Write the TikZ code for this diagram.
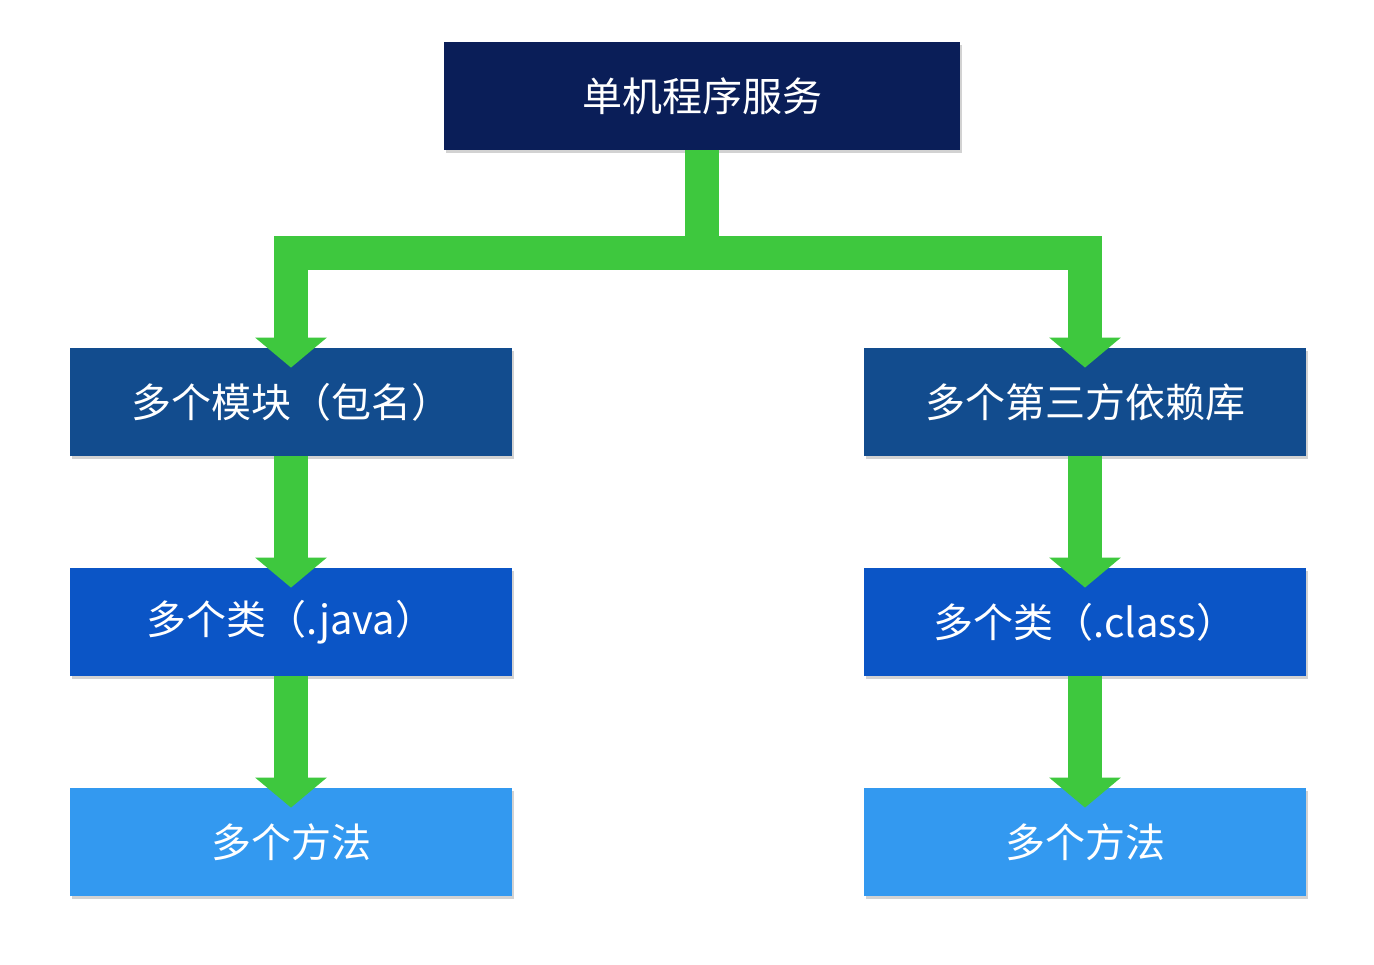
\documentclass[tikz,border=0pt]{standalone}
\usepackage{fontspec}
\setmainfont{Noto Sans CJK SC}
\usetikzlibrary{arrows.meta,shadows}
\definecolor{navy}{HTML}{0A1E58}
\definecolor{midblue}{HTML}{124C8E}
\definecolor{brightblue}{HTML}{0B55C6}
\definecolor{skyblue}{HTML}{3399F0}
\definecolor{arrowgreen}{HTML}{3EC83E}
\tikzset{
  box/.style={draw=none,minimum width=221pt,minimum height=54pt,text=white,
    font=\fontsize{20pt}{24pt}\selectfont,inner sep=0pt,
    drop shadow={shadow xshift=1pt,shadow yshift=-1.5pt,opacity=0.35}},
  flow/.style={draw=arrowgreen,line width=17pt,line join=miter,
    -{Triangle[width=35pt,length=15pt]}}
}
\begin{document}
\begin{tikzpicture}[x=0.5pt,y=-0.5pt]
\useasboundingbox[fill=white] (0,0) rectangle (1374,964);
% boxes
\node[box,minimum width=258pt,fill=navy] (top) at (702,96) {单机程序服务};
\node[box,fill=midblue] (l1) at (291,402) {多个模块（包名）};
\node[box,fill=brightblue] (l2) at (291,622) {多个类（.java）};
\node[box,fill=skyblue] (l3) at (291,842) {多个方法};
\node[box,fill=midblue] (r1) at (1085,402) {多个第三方依赖库};
\node[box,fill=brightblue] (r2) at (1085,622) {多个类（.class）};
\node[box,fill=skyblue] (r3) at (1085,842) {多个方法};
% arrows
\coordinate (split) at (702,253);
\draw[draw=arrowgreen,line width=17pt] (top.south) -- (split);
\draw[flow] (split) -| ([yshift=-10]l1.north);
\draw[flow] (split) -| ([yshift=-10]r1.north);
\draw[flow] (l1.south) -- ([yshift=-10]l2.north);
\draw[flow] (l2.south) -- ([yshift=-10]l3.north);
\draw[flow] (r1.south) -- ([yshift=-10]r2.north);
\draw[flow] (r2.south) -- ([yshift=-10]r3.north);
\end{tikzpicture}
\end{document}
